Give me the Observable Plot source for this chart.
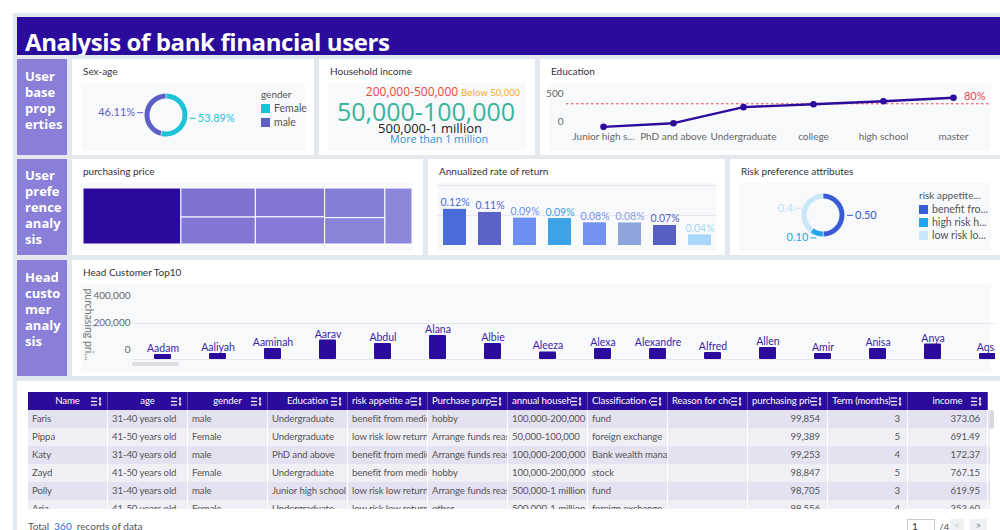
<!DOCTYPE html>
<html>
<head>
<meta charset="utf-8">
<title>Analysis of bank financial users</title>
<script src="https://cdn.jsdelivr.net/npm/d3@7"></script>
<script src="https://cdn.jsdelivr.net/npm/@observablehq/plot@0.6"></script>
<style>
html,body{margin:0;padding:0;}
body{width:1000px;height:530px;overflow:hidden;position:relative;background:#fff;font-family:Lato,"Open Sans",sans-serif;}
.abs{position:absolute;}
#bg{left:13px;top:13px;width:987px;height:517px;background:#e3e7ee;}
#titlebar{left:17px;top:17px;width:983px;height:38px;background:#2b0b9c;overflow:hidden;}
#titlebar div{position:absolute;left:8px;top:10px;font-family:"Open Sans",sans-serif;font-size:24px;line-height:30px;font-weight:700;color:#fff;white-space:nowrap;letter-spacing:-0.4px;}
.side{position:absolute;left:17px;width:50px;background:#8a7fd8;color:#fff;font-family:"Open Sans",sans-serif;font-weight:700;font-size:13px;line-height:16px;box-sizing:border-box;padding-left:8px;}
.card{position:absolute;background:#fff;overflow:hidden;}
.ctitle{position:absolute;left:11px;top:5px;font-size:10px;line-height:14px;color:#333;white-space:nowrap;}
.area{position:absolute;left:9px;right:9px;top:24px;bottom:4px;background:#f8f9fb;}
.legend{position:absolute;font-size:10px;color:#555;line-height:13px;white-space:nowrap;}
.sw{position:absolute;width:9px;height:9px;}
.hdr{position:absolute;left:0;top:0;height:18px;background:#2b0b9c;display:flex;}
.hc{position:relative;width:80px;height:18px;box-sizing:border-box;border-right:1px solid #5a44b8;color:#fff;font-size:9.6px;letter-spacing:-0.1px;line-height:18px;}
.hc span{position:absolute;left:4px;right:16px;top:0;text-align:center;overflow:hidden;white-space:nowrap;}
.hc svg{position:absolute;right:5px;top:5px;}
.row{display:flex;height:18px;}
.tc{width:80px;height:18px;box-sizing:border-box;border-right:1px solid #fff;padding:0 4px;font-size:9.6px;letter-spacing:-0.1px;line-height:18px;color:#555;overflow:hidden;white-space:nowrap;}
.tc.num{text-align:right;padding-right:7px;}
</style>
</head>
<body>
<div id="bg" class="abs"></div>
<div id="titlebar" class="abs"><div>Analysis of bank financial users</div></div>
<div id="root"></div>
<script>
// ================= DATA =================
const sectionLabels = [["User","base","prop","erties"],["User","prefe","rence","analy","sis"],["Head","custo","mer","analy","sis"]];

const genderLabels = ["Female", "male"];
const genderShares = [53.89, 46.11];
const genderColors = ["#1cc3d6", "#5b5fc6"];

const incomeLevels = ["50,000-100,000", "200,000-500,000", "500,000-1 million", "More than 1 million", "Below 50,000"];
const incomeCounts = [152, 48, 56, 38, 28];
const incomeColors = ["#37b49b", "#e8493d", "#222222", "#2e8fd0", "#f5a623"];

const educationLevels = ["Junior high school and below", "PhD and above", "Undergraduate", "college", "high school", "master"];
const educationValues = [12, 77, 363, 416, 470, 530];
const educationTicks = [0, 500];
const educationMarkShare = 0.8;

const priceBuckets = ["0-20,000", "20,000-30,000", "30,000-40,000", "40,000-50,000", "50,000-60,000", "60,000-70,000", "70,000-80,000", "80,000-100,000"];
const priceCounts = [5454, 2150, 2000, 1990, 1870, 1780, 1580, 1510];

const returnProducts = ["fund", "stock", "foreign exchange", "Bank wealth management", "bond", "insurance", "precious metals", "deposit"];
const returnRates = [0.1205, 0.1102, 0.0912, 0.0898, 0.0756, 0.0752, 0.0668, 0.0356];
const returnColors = ["#4a6bd8", "#5b62c8", "#6d8ff2", "#3ba2e8", "#7391f0", "#8fa3dc", "#5660c3", "#a9d6f9"];
const returnGrid = [0.1, 0.2];

const riskLabels = ["benefit from medium risk", "high risk high return", "low risk low return"];
const riskShares = [0.5, 0.1, 0.4];
const riskValueText = ["0.50", "0.10", "0.4"];
const riskColors = ["#3a5bd6", "#22a5ec", "#c8e7f9"];
const riskTextColors = ["#3a56c8", "#27a3e6", "#c3e0f3"];
const riskLegendTitle = "risk appetite attribute";

const headNames = ["Aadam", "Aaliyah", "Aaminah", "Aarav", "Abdul", "Alana", "Albie", "Aleeza", "Alexa", "Alexandre", "Alfred", "Allen", "Amir", "Anisa", "Anya", "Aqsa"];
const headValues = [28000, 33000, 61000, 108000, 89000, 133000, 89000, 42000, 61000, 61000, 39000, 67000, 33000, 61000, 86000, 33000];
const headTicks = [0, 200000, 400000];
const headAxisTitle = "purchasing price";

const tableColumns = ["Name", "age", "gender", "Education", "risk appetite attribute", "Purchase purpose", "annual household income", "Classification of financial products", "Reason for choice", "purchasing price", "Term (months)", "income"];
const numericColumns = [9, 10, 11];
const tableRows = [
  ["Faris", "31-40 years old", "male", "Undergraduate", "benefit from medium risk", "hobby", "100,000-200,000", "fund", "", "99,854", "3", "373.06"],
  ["Pippa", "41-50 years old", "Female", "Undergraduate", "low risk low return", "Arrange funds reasonably", "50,000-100,000", "foreign exchange", "", "99,389", "5", "691.49"],
  ["Katy", "31-40 years old", "male", "PhD and above", "benefit from medium risk", "Arrange funds reasonably", "100,000-200,000", "Bank wealth management", "", "99,253", "4", "172.37"],
  ["Zayd", "41-50 years old", "Female", "Undergraduate", "benefit from medium risk", "hobby", "100,000-200,000", "stock", "", "98,847", "5", "767.15"],
  ["Polly", "31-40 years old", "male", "Junior high school and below", "low risk low return", "Arrange funds reasonably", "500,000-1 million", "fund", "", "98,705", "3", "619.95"],
  ["Aria", "41-50 years old", "Female", "Undergraduate", "low risk low return", "other", "500,000-1 million", "foreign exchange", "", "98,556", "4", "353.60"]
];
const totalRecords = 360;
const pageCount = 4;

// ================= HELPERS =================
const FONT = 'Lato, "Open Sans", sans-serif';
const baseStyle = {background: "transparent", fontFamily: FONT, fontSize: "10px", overflow: "visible", maxWidth: "none", color: "#555"};
const root = document.getElementById("root");
function box(cls, left, top, w, h, parent = root) {
  const d = document.createElement("div");
  d.className = cls;
  Object.assign(d.style, {position: "absolute", left: left + "px", top: top + "px", width: w + "px", height: h + "px"});
  parent.appendChild(d);
  return d;
}
function put(el, parent, left, top) {
  el.style.position = "absolute";
  el.style.left = left + "px";
  el.style.top = top + "px";
  parent.appendChild(el);
  return el;
}
function card(left, top, w, h, title) {
  const c = box("card", left, top, w, h);
  const a = document.createElement("div"); a.className = "area"; c.appendChild(a);
  const t = document.createElement("div"); t.className = "ctitle"; t.textContent = title; c.appendChild(t);
  return c;
}
const trunc = (s, n) => s.length > n ? s.slice(0, n) + "..." : s;
const idScales = {x: {type: "identity", axis: null}, y: {type: "identity", axis: null}, color: {type: "identity"}};

// side labels
[[59, 96], [159, 96], [260, 116]].forEach(([top, h], i) => {
  const s = box("side", 17, top, 50, h);
  s.style.paddingTop = (i === 1 ? 8 : 9) + "px";
  s.innerHTML = sectionLabels[i].join("<br>");
});

// donut builder (Plot figure with a render-function mark for the ring)
function donut({width, height, cx, cy, r0, r1, values, colors, texts, textColors}) {
  const arcs = d3.pie().sort(null).padAngle(0.025)(values);
  const rows = arcs.map((a, i) => {
    const m = (a.startAngle + a.endAngle) / 2, s = Math.sin(m), c = -Math.cos(m);
    const side = s >= 0 ? 1 : -1;
    const x0 = cx + s * (r1 + 2), y0 = cy + c * (r1 + 2);
    return {x0, y0, x1: x0 + side * 6, y1: y0, side, text: texts[i], color: textColors[i]};
  });
  return Plot.plot({
    width, height, margin: 0, style: baseStyle, ...idScales,
    marks: [
      () => {
        const g = d3.create("svg:g").attr("transform", `translate(${cx},${cy})`);
        const arc = d3.arc().innerRadius(r0).outerRadius(r1);
        g.selectAll("path").data(arcs).join("path").attr("d", arc).attr("fill", (d, i) => colors[i]);
        return g.node();
      },
      Plot.link(rows, {x1: "x0", y1: "y0", x2: "x1", y2: "y1", stroke: "color", strokeWidth: 1}),
      Plot.text(rows.filter(d => d.side > 0), {x: "x1", y: "y1", text: "text", fill: "color", textAnchor: "start", dx: 2, fontSize: 11}),
      Plot.text(rows.filter(d => d.side < 0), {x: "x1", y: "y1", text: "text", fill: "color", textAnchor: "end", dx: -2, fontSize: 11})
    ]
  });
}
function legend(parent, left, top, title, labels, colors, step) {
  const t = document.createElement("div"); t.className = "legend"; t.textContent = title;
  put(t, parent, left, top);
  labels.forEach((l, i) => {
    const sw = document.createElement("div"); sw.className = "sw"; sw.style.background = colors[i];
    put(sw, parent, left, top + 14 + i * step + 2);
    const tx = document.createElement("div"); tx.className = "legend"; tx.textContent = l;
    tx.style.fontSize = "10.5px";
    put(tx, parent, left + 13, top + 14 + i * step);
  });
}

// ---------- Row 1: Sex-age ----------
{
  const c = card(72, 59, 242, 96, "Sex-age");
  const fig = donut({width: 242, height: 72, cx: 94, cy: 32, r0: 16.5, r1: 21.5,
    values: genderShares, colors: genderColors,
    texts: genderShares.map(v => v.toFixed(2) + "%"), textColors: genderColors});
  put(fig, c, 0, 24);
  legend(c, 189, 29, "gender", genderLabels, genderColors, 14);
}

// ---------- Row 1: Household income (word cloud) ----------
{
  const c = card(319, 59, 216, 96, "Household income");
  const slots = [[106.5, 29.5], [92.5, 9], [110.5, 45.5], [119.5, 56], [171, 9.5]];
  const words = incomeLevels.map((w, i) => ({w, x: slots[i][0], y: slots[i][1], size: 6 + incomeCounts[i] / 8, color: incomeColors[i]}));
  const fig = Plot.plot({
    width: 216, height: 72, margin: 0, style: {...baseStyle, fontFamily: '"Open Sans", sans-serif'}, ...idScales,
    marks: [Plot.text(words, {x: "x", y: "y", text: "w", fill: "color", fontSize: "size"})]
  });
  put(fig, c, 0, 24);
}

// ---------- Row 1: Education ----------
{
  const c = card(540, 59, 460, 96, "Education");
  const pts = educationLevels.map((e, i) => ({e, v: educationValues[i]}));
  const threshold = educationMarkShare * d3.max(educationValues);
  const fig = Plot.plot({
    width: 460, height: 70, marginLeft: 26, marginRight: 10, marginTop: 16, marginBottom: 26, style: {...baseStyle, color: "#666"},
    x: {type: "point", domain: educationLevels, padding: 0.5, label: null, tickSize: 0, tickPadding: 5, tickFormat: d => trunc(d, 13)},
    y: {domain: [0, 500], axis: null},
    marks: [
      Plot.text(educationTicks, {y: d => d, frameAnchor: "left", textAnchor: "end", dx: -3, dy: -6, text: d => d3.format(",")(d), fill: "#666"}),
      Plot.ruleY([threshold], {stroke: "#e8484e", strokeDasharray: "2.5,2.5", strokeWidth: 1}),
      Plot.text([threshold], {y: d => d, frameAnchor: "right", textAnchor: "end", dx: -5, dy: -7, text: () => Math.round(educationMarkShare * 100) + "%", fill: "#e8484e", fontSize: 11}),
      Plot.line(pts, {x: "e", y: "v", stroke: "#2b0b9c", strokeWidth: 2.4}),
      Plot.dot(pts, {x: "e", y: "v", r: 3.3, fill: "#2b0b9c"})
    ]
  });
  put(fig, c, 0, 24);
}

// ---------- Row 2: purchasing price (treemap) ----------
{
  const c = card(72, 159, 351, 96, "purchasing price");
  const W = 329, H = 56;
  const rootNode = d3.hierarchy({children: priceBuckets.map((b, i) => ({b, v: priceCounts[i]}))})
    .sum(d => d.v || 0).sort((a, b) => b.value - a.value);
  d3.treemap().size([W, H]).tile(d3.treemapSquarify)(rootNode);
  const cells = rootNode.leaves().map(l => ({b: l.data.b, v: l.data.v, x0: l.x0, x1: l.x1, y0: l.y0, y1: l.y1}));
  const fig = Plot.plot({
    width: 351, height: 70, marginLeft: 11, marginRight: 11, marginTop: 5, marginBottom: 9, style: baseStyle,
    x: {domain: [0, W], axis: null}, y: {domain: [0, H], reverse: true, axis: null},
    color: {type: "linear", domain: [d3.min(priceCounts), d3.max(priceCounts)], range: ["#8c86da", "#2a0a9e"]},
    marks: [Plot.rect(cells, {x1: "x0", x2: "x1", y1: "y0", y2: "y1", fill: "v", stroke: "#fff", strokeWidth: 1})]
  });
  put(fig, c, 0, 24);
}

// ---------- Row 2: Annualized rate of return ----------
{
  const c = card(428, 159, 297, 96, "Annualized rate of return");
  const bars = returnProducts.map((p, i) => ({p, v: returnRates[i], color: returnColors[i]}));
  const fig = Plot.plot({
    width: 297, height: 70, marginLeft: 9, marginRight: 8, marginTop: 2, marginBottom: 8, style: baseStyle,
    x: {domain: returnProducts, paddingInner: 0.33, paddingOuter: 0.165, axis: null},
    y: {domain: [0, 0.2], axis: null}, color: {type: "identity"},
    marks: [
      Plot.ruleY(returnGrid, {stroke: "#e6e8ee"}),
      Plot.barY(bars, {x: "p", y: "v", fill: "color"}),
      Plot.text(bars, {x: "p", y: "v", text: d => d.v.toFixed(2) + "%", fill: "color", lineAnchor: "bottom", dy: -3, fontSize: 10.5})
    ]
  });
  put(fig, c, 0, 24);
}

// ---------- Row 2: Risk preference ----------
{
  const c = card(730, 159, 270, 96, "Risk preference attributes");
  const fig = donut({width: 270, height: 72, cx: 93, cy: 32, r0: 16.5, r1: 21.5,
    values: riskShares, colors: riskColors, texts: riskValueText, textColors: riskTextColors});
  put(fig, c, 0, 24);
  legend(c, 189, 30, trunc(riskLegendTitle, 13), riskLabels.map(l => trunc(l, 11)), riskColors, 13);
}

// ---------- Row 3: Head Customer Top10 ----------
{
  const c = card(72, 260, 928, 116, "Head Customer Top10");
  const clip = box("", 0, 24, 923, 90, c); clip.style.overflow = "hidden";
  const bars = headNames.map((n, i) => ({n, v: headValues[i]}));
  const fig = Plot.plot({
    width: 950, height: 86, marginLeft: 60.4, marginRight: 4.8, marginTop: 3, marginBottom: 11, style: baseStyle,
    x: {domain: headNames, paddingInner: 0.69, paddingOuter: 0.345, axis: null},
    y: {domain: [0, 400000], axis: null},
    marks: [
      Plot.ruleY([0, 200000], {stroke: "#e4e6eb"}),
      Plot.barY(bars, {x: "n", y: "v", fill: "#2b0b9c", rx: 1}),
      Plot.text(bars, {x: "n", y: "v", text: "n", fill: "#3a1fa8", lineAnchor: "bottom", dy: -2.5, fontSize: 10.5})
    ]
  });
  put(fig, clip, 0, 0);
  const axisFig = Plot.plot({
    width: 60, height: 86, marginLeft: 58, marginRight: 0, marginTop: 11, marginBottom: 21, style: {...baseStyle, color: "#666"},
    y: {domain: [0, 400000], ticks: headTicks, tickFormat: d3.format(","), tickSize: 0, tickPadding: 0, label: null},
    marks: [
      Plot.text([trunc(headAxisTitle, 14)], {frameAnchor: "left", textAnchor: "middle", dx: -42.5, dy: 2, rotate: 90, text: d => d, fill: "#777", fontSize: 10.5})
    ]
  });
  put(axisFig, c, 0, 24);
  const sb = box("", 60, 101.5, 47, 4, c); sb.style.background = "#dcdde2"; sb.style.borderRadius = "2px";
}

// ---------- Row 4: table ----------
{
  const c = box("card", 17, 381, 983, 149);
  const wrap = box("", 11, 11, 962, 118, c);
  const icon = '<svg width="11" height="9" viewBox="0 0 11 9"><g stroke="#fff" stroke-width="1.2"><line x1="0" y1="1" x2="6" y2="1"/><line x1="0" y1="4.5" x2="6" y2="4.5"/><line x1="0" y1="8" x2="6" y2="8"/><line x1="9" y1="0.5" x2="9" y2="8.5"/></g><path d="M7.3 2.2L9 0.3L10.7 2.2ZM7.3 6.8L9 8.7L10.7 6.8Z" fill="#fff"/></svg>';
  const hdr = document.createElement("div"); hdr.className = "hdr"; wrap.appendChild(hdr);
  const spans = [];
  tableColumns.forEach(col => {
    const h = document.createElement("div"); h.className = "hc";
    h.innerHTML = "<span></span>" + icon; const sp = h.querySelector("span"); sp.textContent = col;
    hdr.appendChild(h); spans.push(sp);
  });
  // short headers are centred on the whole cell; long ones start at the left edge and are clipped by the icon
  spans.forEach(sp => { sp.style.paddingLeft = "12px"; if (sp.scrollWidth > sp.clientWidth) sp.style.paddingLeft = "0px"; });
  const body = box("", 0, 18, 962, 99, wrap); body.style.overflow = "hidden";
  tableRows.forEach((r, ri) => {
    const row = document.createElement("div"); row.className = "row";
    row.style.background = ri % 2 === 0 ? "#e4e2f0" : "#f0eff6";
    r.forEach((v, ci) => {
      const td = document.createElement("div"); td.className = "tc" + (numericColumns.includes(ci) ? " num" : "");
      td.textContent = v; row.appendChild(td);
    });
    body.appendChild(row);
  });
  const sb = box("", 973, 29, 4, 19, c); sb.style.background = "#d6d8de"; sb.style.borderRadius = "2px";
  const foot = document.createElement("div"); foot.className = "legend";
  foot.innerHTML = 'Total&nbsp; <span style="color:#2f6fd6">' + totalRecords + '</span>&nbsp; records of data';
  put(foot, c, 11, 139);
  const inp = box("", 890, 138, 28, 14, c); inp.style.border = "1px solid #c6cad3"; inp.style.boxSizing = "border-box";
  inp.style.fontSize = "10px"; inp.style.color = "#333"; inp.style.paddingLeft = "4px"; inp.style.lineHeight = "12px"; inp.textContent = "1";
  const pg = document.createElement("div"); pg.className = "legend"; pg.textContent = "/" + pageCount; put(pg, c, 922, 140);
  const b1 = box("", 933, 138, 14, 14, c); b1.style.background = "#eef0f4"; b1.style.color = "#c8cbd2"; b1.style.fontSize = "10px"; b1.style.textAlign = "center"; b1.style.lineHeight = "13px"; b1.textContent = "<";
  const b2 = box("", 953, 138, 17, 14, c); b2.style.background = "#eef0f4"; b2.style.color = "#777"; b2.style.fontSize = "10px"; b2.style.textAlign = "center"; b2.style.lineHeight = "13px"; b2.textContent = ">";
}
</script>
</body>
</html>
